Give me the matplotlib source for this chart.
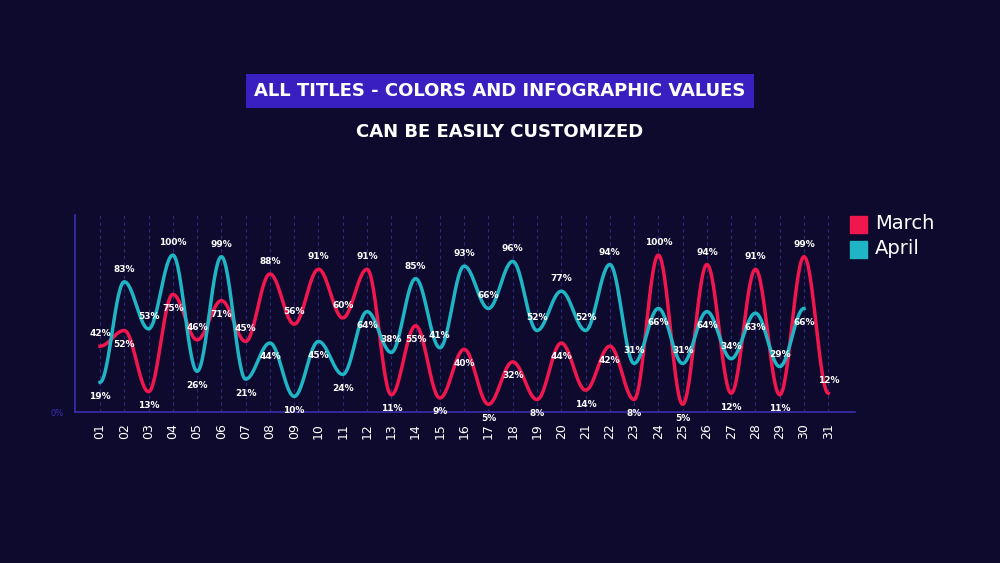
import numpy as np
import matplotlib.pyplot as plt

days = [f"{d:02d}" for d in range(1, 32)]
march = [42, 52, 13, 75, 46, 71, 45, 88, 56, 91, 60, 91, 11, 55, 9, 40, 5, 32, 8, 44,
         14, 42, 8, 100, 5, 94, 12, 91, 11, 99, 12]
april = [19, 83, 53, 100, 26, 99, 21, 44, 10, 45, 24, 64, 38, 85, 41, 93, 66, 96, 52, 77,
         52, 94, 31, 66, 31, 64, 34, 63, 29, 66]

bg = "#0e0a2e"
red = "#f0174f"
teal = "#1fb5c4"

def smooth(vals):
    # cosine easing between points, flat tangent at each point
    xs, ys = [], []
    for i in range(len(vals) - 1):
        t = np.linspace(0, 1, 30, endpoint=False)
        xs.extend(i + 1 + t)
        ys.extend(vals[i] + (vals[i + 1] - vals[i]) * (1 - np.cos(np.pi * t)) / 2)
    xs.append(len(vals))
    ys.append(vals[-1])
    return np.array(xs), np.array(ys)

fig = plt.figure(figsize=(10, 5.63), dpi=100, facecolor=bg)
ax = fig.add_axes([0.075, 0.268, 0.78, 0.35], facecolor=bg)
ax.set_xlim(-0.03, 32.1)
ax.set_ylim(0, 125.5)

for d in range(1, 32):
    ax.axvline(d, color="#2a2a7a", lw=0.8, ls=(0, (3, 3)), zorder=0)

for s in ["top", "right"]:
    ax.spines[s].set_visible(False)
for s in ["left", "bottom"]:
    ax.spines[s].set_color("#3a2fb0")
    ax.spines[s].set_linewidth(1.2)

x, y = smooth(march)
ax.plot(x, y, color=red, lw=2.5, zorder=3)
x, y = smooth(april)
ax.plot(x, y, color=teal, lw=2.5, zorder=3)

for i in range(31):
    m = march[i]
    a = april[i] if i < len(april) else None
    for v, other in [(m, a), (a, m)]:
        if v is None:
            continue
        up = other is None or v >= other
        ax.annotate(f"{v}%", (i + 1, v), xytext=(0, 9 if up else -10), textcoords="offset points",
                    ha="center", va="center", color="white", fontsize=6.5, fontweight="bold", zorder=4)

ax.set_xticks(range(1, 32))
ax.set_xticklabels(days, rotation=90, color="white", fontsize=9)
ax.set_yticks([0])
ax.set_yticklabels(["0%"], color="#3a2fb0", fontsize=6)
ax.tick_params(length=0, pad=8)

fig.text(0.5, 0.838, "ALL TITLES - COLORS AND INFOGRAPHIC VALUES", ha="center", va="center",
         color="white", fontsize=13, fontweight="bold",
         bbox=dict(boxstyle="square,pad=0.45", fc="#3a1fc0", ec="none"))
fig.text(0.5, 0.765, "CAN BE EASILY CUSTOMIZED", ha="center", va="center",
         color="white", fontsize=13, fontweight="bold")

for k, (lab, c) in enumerate([("March", red), ("April", teal)]):
    yy = 0.603 - k * 0.045
    fig.patches.append(plt.Rectangle((0.85, yy - 0.016), 0.017, 0.03, transform=fig.transFigure,
                                     color=c, figure=fig))
    fig.text(0.875, yy, lab, color="white", fontsize=14, va="center")

fig.savefig("out.png", facecolor=bg)
